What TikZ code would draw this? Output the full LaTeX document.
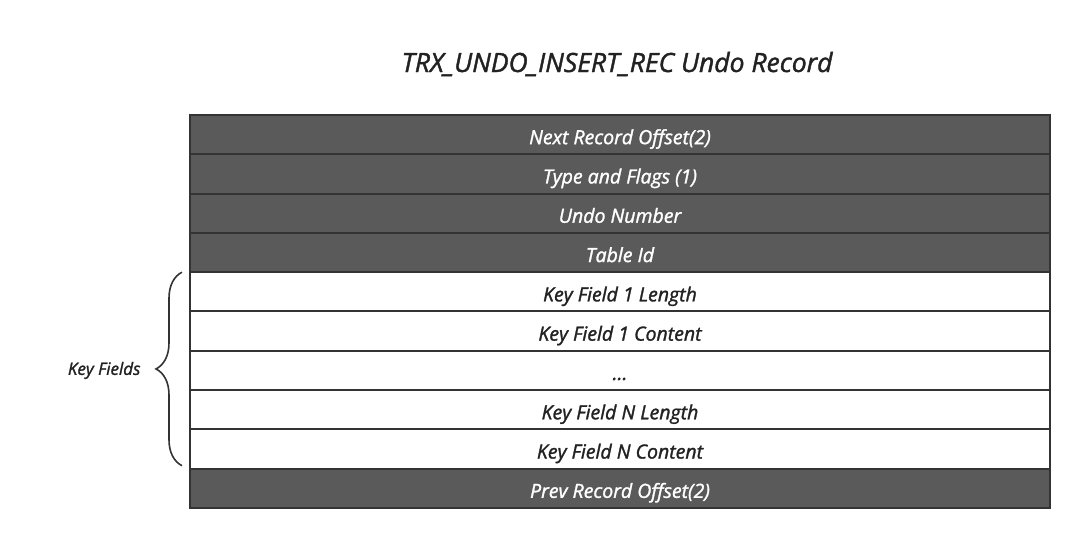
\documentclass[tikz,border=0pt]{standalone}
\usepackage{fontspec}
\setmainfont{Open Sans}[FakeBold=1.5]
\usetikzlibrary{positioning}
\usetikzlibrary{calc}
\usetikzlibrary{decorations.pathreplacing}

\definecolor{rowdark}{HTML}{5A5A5A}
\definecolor{rowline}{HTML}{333333}
\definecolor{inktext}{HTML}{222222}

\begin{document}
\begin{tikzpicture}[x=1pt, y=-1pt,
        field/.style={rectangle, draw=rowline, line width=2pt, minimum width=860pt, minimum height=39.3pt, outer sep=0pt, inner sep=0pt, text height=21pt, text depth=2pt, font=\itshape\fontsize{19.5}{22}\selectfont},
        darkfield/.style={field, fill=rowdark, text=white},
        lightfield/.style={field, fill=white, text=inktext},
        node distance=0pt
    ]
    \useasboundingbox (0,0) rectangle (1080,540);

    \node[font=\itshape\fontsize{26.5}{30}\selectfont, text=inktext] (title) at (617,64) {TRX\_UNDO\_INSERT\_REC Undo Record};

    \node[darkfield] (0_1) at (620,134.65) {Next Record Offset(2)};
    \node[darkfield] (0_2) [below=of 0_1] {Type and Flags (1)};
    \node[darkfield] (0_3) [below=of 0_2] {Undo Number};
    \node[darkfield] (0_4) [below=of 0_3] {Table Id};
    \node[lightfield] (1_1) [below=of 0_4] {Key Field 1 Length};
    \node[lightfield] (1_2) [below=of 1_1] {Key Field 1 Content};
    \node[lightfield] (1_3) [below=of 1_2] {\dots};
    \node[lightfield] (1_4) [below=of 1_3] {Key Field N Length};
    \node[lightfield] (1_5) [below=of 1_4] {Key Field N Content};
    \node[darkfield] (2_1) [below=of 1_5] {Prev Record Offset(2)};

    \draw[rowline, line width=1.6pt, decorate, decoration={brace, amplitude=26pt}]
        ([xshift=-8pt,yshift=3pt]1_5.south west) to ([xshift=-8pt]1_1.north west);
    \coordinate (BRACE_TIP) at ($([xshift=-34pt]1_1.north west)!0.5!([xshift=-34pt]1_5.south west)$);
    \node[font=\itshape\fontsize{17}{20}\selectfont, text=inktext, left=12pt of BRACE_TIP] (keys) {Key Fields};
\end{tikzpicture}
\end{document}
